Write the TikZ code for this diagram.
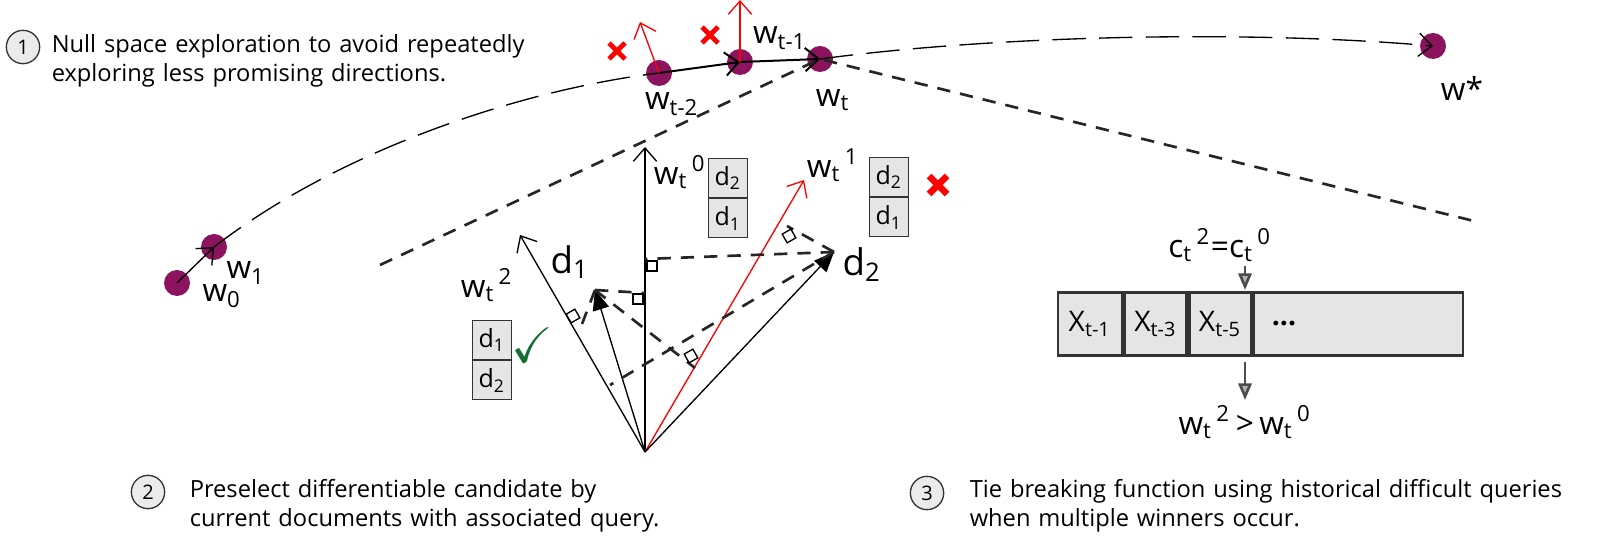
\documentclass[tikz,border=0pt]{standalone}
\usepackage{amssymb}
\usepackage{fontspec}
\setmainfont{Open Sans}
\usetikzlibrary{arrows.meta,positioning}
\definecolor{plum}{RGB}{140,20,95}
\definecolor{okgreen}{RGB}{20,110,50}
\begin{document}
\begin{tikzpicture}[x=0.3pt,y=-0.3pt,font=\fontsize{7.1}{8.6}\selectfont]
	\tikzstyle{pt}=[circle,fill=plum,minimum size=7.8pt,inner sep=0pt]
	\tikzstyle{num}=[circle,draw=black!80,fill=black!8,minimum size=10pt,inner sep=0pt,font=\fontsize{6}{7}\selectfont]
	\tikzstyle{annot}=[anchor=west,align=left,text width=190pt]
	\tikzstyle{lbl}=[font=\fontsize{9.5}{10}\selectfont,inner sep=1pt]
	\tikzstyle{cell}=[draw=black!80,fill=black!10,minimum width=11.7pt,minimum height=11.7pt,inner sep=0pt,font=\fontsize{7.5}{8}\selectfont]
	\tikzstyle{qcell}=[draw=black!80,thick,fill=black!10,minimum height=19pt,inner sep=0pt,font=\fontsize{8.5}{9}\selectfont]
	\tikzstyle{vec}=[-{Straight Barb[length=4pt,width=7pt]},thin]
	\tikzstyle{proj}=[dashed,thick,dash pattern=on 4pt off 3pt,black!85]
	\tikzstyle{xmark}=[red,line width=1.4pt]
	\tikzstyle{rsq}=[draw,thin,minimum size=3pt,inner sep=0pt,fill=white]
	\useasboundingbox (0,0) rectangle (1624,543);
	% annotations
	\node[num] (n1) at (23,47) {1};
	\node[annot] (a1) at (40,61) {Null space exploration to avoid repeatedly\\exploring less promising directions.};
	\node[num] (n2) at (148,492) {2};
	\node[annot] (a2) at (178,506) {Preselect differentiable candidate by\\current documents with associated query.};
	\node[num] (n3) at (927,493) {3};
	\node[annot] (a3) at (958,506) {Tie breaking function using historical difficult queries\\when multiple winners occur.};
	% trajectory
	\node[pt] (w0) at (177,283) {};
	\node[pt] (w1) at (214,247) {};
	\node[pt] (wt2) at (659,73) {};
	\node[pt] (wt1) at (740,62) {};
	\node[pt] (wt) at (820,59) {};
	\node[pt] (ws) at (1433,46) {};
	\node[lbl] at (222,296) {w\textsubscript{0}};
	\node[lbl] at (246,273) {w\textsubscript{1}};
	\node[lbl] at (672,104) {w\textsubscript{t-2}};
	\node[lbl] at (780,38) {w\textsubscript{t-1}};
	\node[lbl] at (833,100) {w\textsubscript{t}};
	\node[lbl] at (1462,88) {w*};
	\draw[vec] (w0.center) -- (w1.center);
	\draw[dash pattern=on 10pt off 4pt] (w1.center) .. controls (340,150) and (520,90) .. (wt2.center);
	\draw[vec,semithick] (wt2.center) -- (wt1.center);
	\draw[vec,semithick] (wt1.center) -- (wt.center);
	\draw[vec,dash pattern=on 10pt off 4pt] (wt.center) .. controls (1000,35) and (1250,30) .. (ws.center);
	\coordinate (hl) at (380,265);
	\coordinate (hr) at (1478,222);
	\draw[proj] (hl) -- (wt.center) -- (hr);
	% null space directions
	\coordinate (nt2) at (640,22);
	\coordinate (nt1) at (740,0);
	\draw[vec,red] (wt2.center) -- (nt2);
	\draw[vec,red] (wt1.center) -- (nt1);
	\draw[xmark] (609,43) -- (625,59) (609,59) -- (625,43);
	\draw[xmark] (702,27) -- (718,43) (702,43) -- (718,27);
	% candidates
	\coordinate (o) at (645,452);
	\coordinate (v2) at (520,235);
	\coordinate (v0) at (645,147);
	\coordinate (v1) at (804,180);
	\coordinate (d1) at (595,290);
	\coordinate (d2) at (834,252);
	\draw[vec] (o) -- (v2);
	\draw[vec] (o) -- (v0);
	\draw[vec,red] (o) -- (v1);
	\draw[-{Triangle[length=6pt,width=5pt]}] (o) -- (d1);
	\draw[-{Triangle[length=6pt,width=5pt]}] (o) -- (d2);
	\coordinate (f10) at (645,293);
	\coordinate (f20) at (645,259);
	\coordinate (f12) at (582,324);
	\coordinate (f11) at (695,368);
	\coordinate (f21) at (787,226);
	\coordinate (f22) at (610,385);
	\draw[proj] (d1) -- (f10);
	\draw[proj] (d2) -- (f20);
	\draw[proj] (d1) -- (f12);
	\draw[proj] (d1) -- (f11);
	\draw[proj] (d2) -- (f21);
	\draw[proj] (d2) -- (f22);
	\node[rsq] at (638,299) {};
	\node[rsq] at (652,266) {};
	\node[rsq,rotate=30] at (573,316) {};
	\node[rsq,rotate=30] at (691,356) {};
	\node[rsq,rotate=30] at (789,236) {};
	\node[lbl,font=\fontsize{11}{11}\selectfont] at (570,262) {d\textsubscript{1}};
	\node[lbl,font=\fontsize{11}{11}\selectfont] at (862,265) {d\textsubscript{2}};
	\node[lbl] at (680,172) {w\textsubscript{t}\textsuperscript{\,0}};
	\node[lbl] at (833,165) {w\textsubscript{t}\textsuperscript{\,1}};
	\node[lbl] at (487,285) {w\textsubscript{t}\textsuperscript{\,2}};
	% ranked lists
	\node[cell] (b0a) at (728,178) {d\textsubscript{2}};
	\node[cell,below=0pt of b0a] (b0b) {d\textsubscript{1}};
	\node[cell] (b1a) at (889,177) {d\textsubscript{2}};
	\node[cell,below=0pt of b1a] (b1b) {d\textsubscript{1}};
	\node[cell] (b2a) at (492,340) {d\textsubscript{1}};
	\node[cell,below=0pt of b2a] (b2b) {d\textsubscript{2}};
	\draw[xmark,line width=2pt] (929,176) -- (947,194) (929,194) -- (947,176);
	\node[okgreen,font=\fontsize{15}{15}\selectfont] (ok) at (532,345) {$\checkmark$};
	% tie breaking
	\node[qcell,minimum width=19.2pt] (x1) at (1090,324) {X\textsubscript{t-1}};
	\node[qcell,minimum width=18.6pt,right=0pt of x1] (x3) {X\textsubscript{t-3}};
	\node[qcell,minimum width=18.6pt,right=0pt of x3] (x5) {X\textsubscript{t-5}};
	\node[qcell,minimum width=62.7pt,right=0pt of x5,text width=52pt,align=left] (xr) {\textbf{...}};
	\node[lbl] (ceq) at (1220,245) {c\textsubscript{t}\textsuperscript{\,2}=c\textsubscript{t}\textsuperscript{\,0}};
	\node[lbl] (weq) at (1245,422) {w\textsubscript{t}\textsuperscript{\,2}\,>\,w\textsubscript{t}\textsuperscript{\,0}};
	\coordinate (ct) at (1245,266);
	\coordinate (cb) at (1245,290);
	\coordinate (wt0) at (1245,362);
	\coordinate (wb) at (1245,400);
	\draw[-{Triangle[length=5pt,width=4pt,fill=black!30]},black!70,thick] (ct) -- (cb);
	\draw[-{Triangle[length=5pt,width=4pt,fill=black!30]},black!70,thick] (wt0) -- (wb);
\end{tikzpicture}
\end{document}
